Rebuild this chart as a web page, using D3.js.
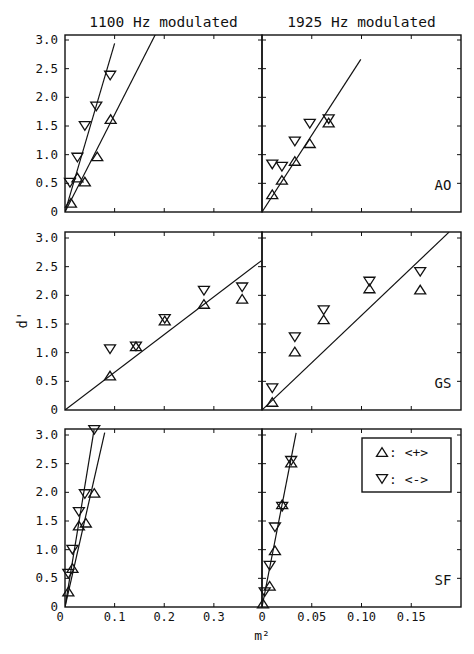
<!DOCTYPE html><html><head><meta charset="utf-8"><script src="https://cdn.jsdelivr.net/npm/d3@7"></script>
<style>body{margin:0;background:#fff}text{font-family:"DejaVu Sans Mono",monospace;fill:#111}</style></head><body><svg id="c" width="474" height="654"></svg><script>
const subjects=["AO","GS","SF"];
const columnTitles=["1100 Hz modulated","1925 Hz modulated"];
const leftTicks=[0,0.1,0.2,0.3], leftTickLabels=["0","0.1","0.2","0.3"];
const rightTicks=[0,0.05,0.10,0.15], rightTickLabels=["0","0.05","0.10","0.15"];
const yTicks=[0,0.5,1,1.5,2,2.5,3], yTickLabels=["0","0.5","1.0","1.5","2.0","2.5","3.0"];
const AO_L_x=[0.012,0.025,0.04,0.065,0.092], AO_L_up=[0.16,0.6,0.53,0.97,1.62], AO_L_dn=[0.51,0.95,1.5,1.84,2.38];
const AO_L_xdn=[0.01,0.025,0.04,0.063,0.091];
const AO_R_x=[0.0103,0.02,0.033,0.048,0.067], AO_R_up=[0.31,0.56,0.89,1.2,1.56], AO_R_dn=[0.83,0.79,1.23,1.54,1.62];
const GS_L_x=[0.0907,0.143,0.201,0.28,0.357], GS_L_up=[0.6,1.11,1.56,1.85,1.94], GS_L_dn=[1.06,1.11,1.59,2.08,2.14];
const GS_R_x=[0.0103,0.033,0.062,0.108,0.159], GS_R_up=[0.14,1.02,1.58,2.12,2.1], GS_R_dn=[0.38,1.27,1.74,2.24,2.41];
const SF_L_xup=[0.0067,0.015,0.028,0.042,0.059], SF_L_up=[0.27,0.68,1.42,1.47,1.99];
const SF_L_xdn=[0.0067,0.015,0.028,0.04,0.059], SF_L_dn=[0.58,1.0,1.66,1.97,3.09];
const SF_R_xup=[0.001,0.0077,0.013,0.0203,0.0293], SF_R_up=[0.06,0.37,0.99,1.79,2.52];
const SF_R_xdn=[0.0027,0.0077,0.013,0.0203,0.0293], SF_R_dn=[0.26,0.72,1.39,1.75,2.55];
const lines=[[[[29.4,0.1],[17,0.182]],[[26.8,0.0993]]],[[[6.58,0.396]],[[16.5,0.188]]],[[[52.8,0.0587],[38,0.08]],[[88.6,0.0343]]]];
const panelsData=[
 [{xu:AO_L_x,u:AO_L_up,xd:AO_L_xdn,d:AO_L_dn},{xu:AO_R_x,u:AO_R_up,xd:AO_R_x,d:AO_R_dn}],
 [{xu:GS_L_x,u:GS_L_up,xd:GS_L_x,d:GS_L_dn},{xu:GS_R_x,u:GS_R_up,xd:GS_R_x,d:GS_R_dn}],
 [{xu:SF_L_xup,u:SF_L_up,xd:SF_L_xdn,d:SF_L_dn},{xu:SF_R_xup,u:SF_R_up,xd:SF_R_xdn,d:SF_R_dn}]];
const svg=d3.select("#c");
const cols=[{x0:65,x1:262,dom:[0,0.397],ticks:leftTicks,lab:leftTickLabels},{x0:262,x1:461,dom:[0,0.2],ticks:rightTicks,lab:rightTickLabels}];
const rows=[{top:35,y0:212,y3:40},{top:232,y0:410,y3:238},{top:429,y0:607,y3:435}];
const tri=(g,x,y,up)=>{const w=5.5,h=4.3;const p=up?`M${x-w},${y+h}L${x+w},${y+h}L${x},${y-h}Z`:`M${x-w},${y-h}L${x+w},${y-h}L${x},${y+h}Z`;g.append("path").attr("d",p).attr("fill","none").attr("stroke","#111").attr("stroke-width",1.3);};
columnTitles.forEach((t,i)=>svg.append("text").attr("x",(cols[i].x0+cols[i].x1)/2).attr("y",27).attr("text-anchor","middle").attr("font-size",14.5).text(t));
rows.forEach((r,ri)=>{
 const y=d3.scaleLinear().domain([0,3]).range([r.y0,r.y3]);
 cols.forEach((c,ci)=>{
  const x=d3.scaleLinear().domain(c.dom).range([c.x0,c.x1]);
  const g=svg.append("g");
  g.append("clipPath").attr("id",`cp${ri}${ci}`).append("rect").attr("x",c.x0).attr("y",r.top).attr("width",c.x1-c.x0).attr("height",r.y0-r.top);
  g.append("rect").attr("x",c.x0).attr("y",r.top).attr("width",c.x1-c.x0).attr("height",r.y0-r.top).attr("fill","none").attr("stroke","#111").attr("stroke-width",1.4);
  c.ticks.slice(1).forEach(t=>{g.append("line").attr("x1",x(t)).attr("x2",x(t)).attr("y1",r.y0).attr("y2",r.y0-4).attr("stroke","#111");g.append("line").attr("x1",x(t)).attr("x2",x(t)).attr("y1",r.top).attr("y2",r.top+4).attr("stroke","#111");});
  yTicks.slice(1).forEach(t=>{g.append("line").attr("x1",c.x0).attr("x2",c.x0+4).attr("y1",y(t)).attr("y2",y(t)).attr("stroke","#111");g.append("line").attr("x1",c.x1).attr("x2",c.x1-4).attr("y1",y(t)).attr("y2",y(t)).attr("stroke","#111");});
  const lg=g.append("g").attr("clip-path",`url(#cp${ri}${ci})`);
  lines[ri][ci].forEach(([s,xe])=>lg.append("line").attr("x1",x(0)).attr("y1",y(0)).attr("x2",x(xe)).attr("y2",y(s*xe)).attr("stroke","#111").attr("stroke-width",1.2));
  const pd=panelsData[ri][ci];
  pd.u.forEach((v,i)=>tri(g,x(pd.xu[i]),y(v),true));
  pd.d.forEach((v,i)=>tri(g,x(pd.xd[i]),y(v),false));
  if(ri===2){c.ticks.forEach((t,i)=>svg.append("text").attr("x",x(t)+(i===0&&ci===0?-5:0)).attr("y",r.y0+14).attr("text-anchor","middle").attr("font-size",12).text(c.lab[i]));}
 });
 yTicks.forEach((t,i)=>svg.append("text").attr("x",58).attr("y",y(t)+4).attr("text-anchor","end").attr("font-size",12.5).text(yTickLabels[i]));
 svg.append("text").attr("x",443).attr("y",r.y0-22).attr("text-anchor","middle").attr("font-size",14).attr("font-family","Liberation Sans, sans-serif").text(subjects[ri]);
});
svg.append("text").attr("transform","translate(27,320) rotate(-90)").attr("text-anchor","middle").attr("font-size",14).text("d'");
svg.append("text").attr("x",262).attr("y",640).attr("text-anchor","middle").attr("font-size",13).text("m²");
const L=svg.append("g");
L.append("rect").attr("x",362).attr("y",438).attr("width",89).attr("height",54).attr("fill","#fff").attr("stroke","#111").attr("stroke-width",1.4);
tri(L,382,452,true);tri(L,382,479,false);
L.append("text").attr("x",389).attr("y",457).attr("font-size",13).text(":  <+>");
L.append("text").attr("x",389).attr("y",484).attr("font-size",13).text(":  <->");
</script></body></html>
